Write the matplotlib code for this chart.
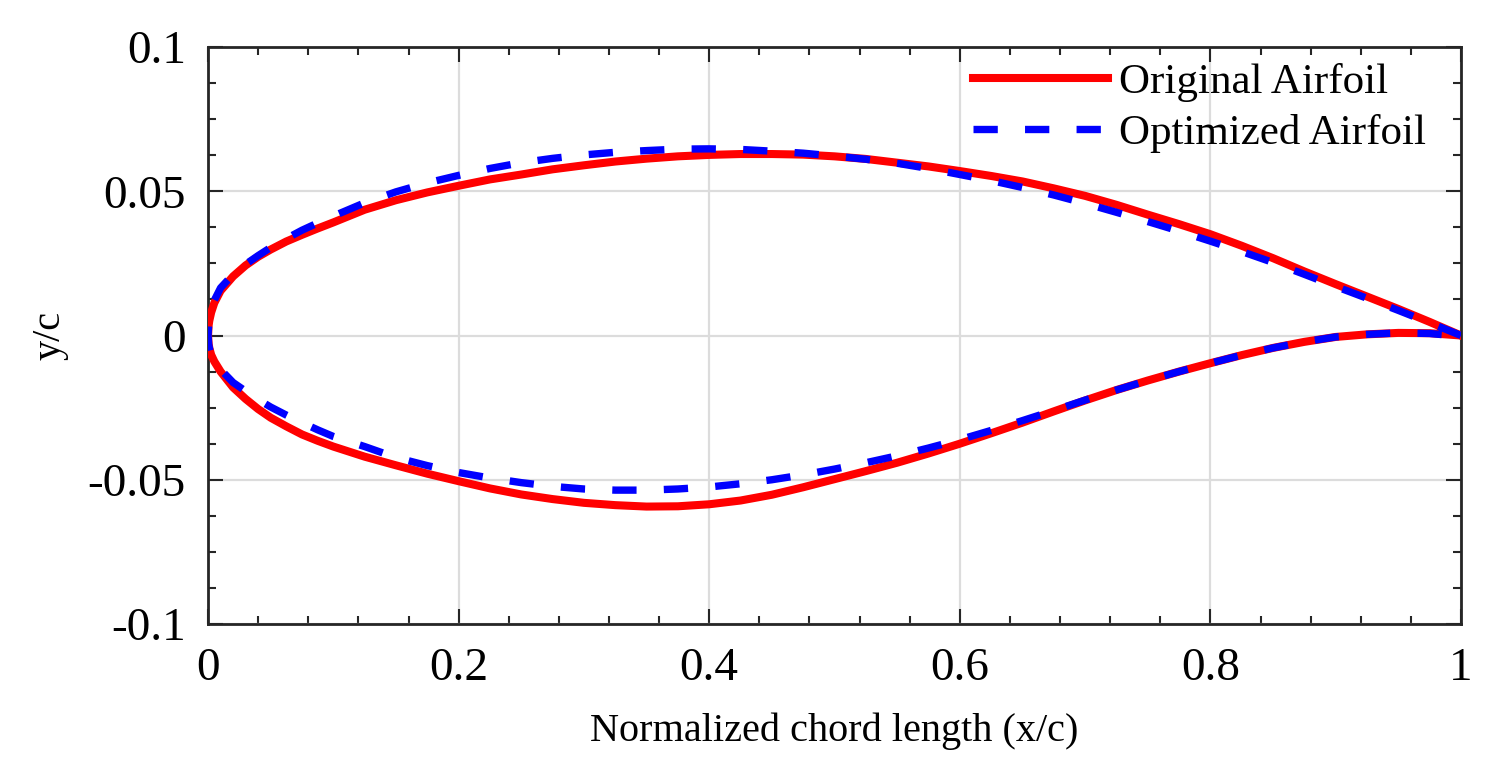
import numpy as np
import matplotlib
matplotlib.use("Agg")
import matplotlib.pyplot as plt
from matplotlib.ticker import MultipleLocator

plt.rcParams['font.family'] = ['Liberation Serif', 'DejaVu Serif']
plt.rcParams['axes.unicode_minus'] = False

# chord stations (x/c), same for both airfoils
chord_x = [0, 0.0005, 0.001, 0.0025, 0.005, 0.01, 0.02, 0.03, 0.04, 0.05, 0.0625, 0.075,
           0.0875, 0.1, 0.125, 0.15, 0.175, 0.2, 0.225, 0.25, 0.275, 0.3, 0.325, 0.35,
           0.375, 0.4, 0.425, 0.45, 0.475, 0.5, 0.525, 0.55, 0.575, 0.6, 0.625, 0.65,
           0.675, 0.7, 0.725, 0.75, 0.775, 0.8, 0.825, 0.85, 0.875, 0.9, 0.925, 0.95,
           0.975, 1.0]

# original airfoil
orig_upper = [0, 0.0036, 0.0051, 0.0080, 0.0113, 0.0155, 0.0205, 0.0243, 0.0273, 0.0298,
              0.0326, 0.0349, 0.0371, 0.0392, 0.0436, 0.0469, 0.0496, 0.0519, 0.0541, 0.0558,
              0.0576, 0.0590, 0.0603, 0.0613, 0.0621, 0.0626, 0.0629, 0.0629, 0.0627, 0.0621,
              0.0612, 0.0599, 0.0586, 0.0570, 0.0553, 0.0534, 0.0510, 0.0484, 0.0453, 0.0419,
              0.0386, 0.0351, 0.0311, 0.0268, 0.0222, 0.0178, 0.0135, 0.0092, 0.0047, 0.0]
orig_lower = [0, -0.0030, -0.0043, -0.0067, -0.0090, -0.0125, -0.0180, -0.0220, -0.0255,
              -0.0285, -0.0315, -0.0343, -0.0365, -0.0385, -0.0420, -0.0450, -0.0479, -0.0505,
              -0.0530, -0.0551, -0.0567, -0.0580, -0.0588, -0.0593, -0.0592, -0.0585, -0.0572,
              -0.0552, -0.0526, -0.0498, -0.0470, -0.0441, -0.0409, -0.0375, -0.0339, -0.0302,
              -0.0263, -0.0225, -0.0189, -0.0156, -0.0125, -0.0096, -0.0068, -0.0043, -0.0022,
              -0.0005, 0.0004, 0.0009, 0.0008, 0.0]

# optimized airfoil
opt_upper = [0, 0.0040, 0.0056, 0.0088, 0.0122, 0.0165, 0.0212, 0.0247, 0.0277, 0.0305,
             0.0336, 0.0365, 0.0390, 0.0414, 0.0460, 0.0498, 0.0529, 0.0555, 0.0579, 0.0599,
             0.0614, 0.0626, 0.0635, 0.0641, 0.0646, 0.0647, 0.0645, 0.0639, 0.0632, 0.0622,
             0.0611, 0.0597, 0.0579, 0.0558, 0.0537, 0.0513, 0.0487, 0.0458, 0.0427, 0.0395,
             0.0362, 0.0327, 0.0291, 0.0253, 0.0212, 0.0170, 0.0129, 0.0087, 0.0044, 0.0]
opt_lower = [0, -0.0030, -0.0043, -0.0067, -0.0088, -0.0118, -0.0163, -0.0193, -0.0222,
             -0.0248, -0.0276, -0.0302, -0.0327, -0.0350, -0.0385, -0.0423, -0.0451, -0.0475,
             -0.0494, -0.0510, -0.0523, -0.0532, -0.0536, -0.0536, -0.0532, -0.0525, -0.0514,
             -0.0500, -0.0483, -0.0463, -0.0441, -0.0417, -0.0390, -0.0361, -0.0329, -0.0295,
             -0.0260, -0.0224, -0.0189, -0.0156, -0.0125, -0.0096, -0.0068, -0.0043, -0.0022,
             -0.0005, 0.0004, 0.0009, 0.0007, -0.0003]

xticks = [0, 0.2, 0.4, 0.6, 0.8, 1]
xticklabels = ['0', '0.2', '0.4', '0.6', '0.8', '1']
yticks = [-0.1, -0.05, 0, 0.05, 0.1]
yticklabels = ['-0.1', '-0.05', '0', '0.05', '0.1']


def closed(x, up, lo):
    # trailing edge -> upper -> leading edge -> lower -> trailing edge
    x = np.array(x)
    xs = np.concatenate([x[::-1], x[1:]])
    ys = np.concatenate([np.array(up)[::-1], np.array(lo)[1:]])
    return xs, ys


fig = plt.figure(figsize=(15, 7.68), dpi=100)
ax = fig.add_axes([0.1387, 0.1875, 0.8353, 0.7513])

xo, yo = closed(chord_x, orig_upper, orig_lower)
xn, yn = closed(chord_x, opt_upper, opt_lower)
ax.plot(xo, yo, color='#ff0000', lw=5.8, label='Original Airfoil', zorder=3,
        solid_joinstyle='round')
ax.plot(xn, yn, color='#0000ff', lw=5.3, dashes=(3.3, 3.7), label='Optimized Airfoil',
        zorder=4, dash_joinstyle='round')

ax.set_xlim(0, 1)
ax.set_ylim(-0.1, 0.1)
ax.set_xticks(xticks)
ax.set_xticklabels(xticklabels)
ax.set_yticks(yticks)
ax.set_yticklabels(yticklabels)
ax.xaxis.set_minor_locator(MultipleLocator(0.04))
ax.yaxis.set_minor_locator(MultipleLocator(0.0125))

ax.grid(True, which='major', color='#dcdcdc', lw=1.6, zorder=0)
ax.set_axisbelow(True)
ax.tick_params(which='both', direction='in', top=True, right=True, colors='#262626',
               labelcolor='black', width=1.5)
ax.tick_params(which='major', length=10.5, labelsize=34)
ax.tick_params(axis='x', which='major', pad=17)
ax.tick_params(axis='y', which='major', pad=16)
ax.tick_params(which='minor', length=5.5)
for s in ax.spines.values():
    s.set_linewidth(2)
    s.set_color('#262626')

ax.set_xlabel('Normalized chord length (x/c)', fontsize=29, labelpad=16)
ax.set_ylabel('y/c', fontsize=29, labelpad=14)

ax.legend(loc='upper right', bbox_to_anchor=(0.972, 0.972), frameon=False, fontsize=31,
          handlelength=3.15, handletextpad=0.25, labelspacing=0.28, borderaxespad=0,
          borderpad=0)

fig.savefig('out.png', dpi=100)
